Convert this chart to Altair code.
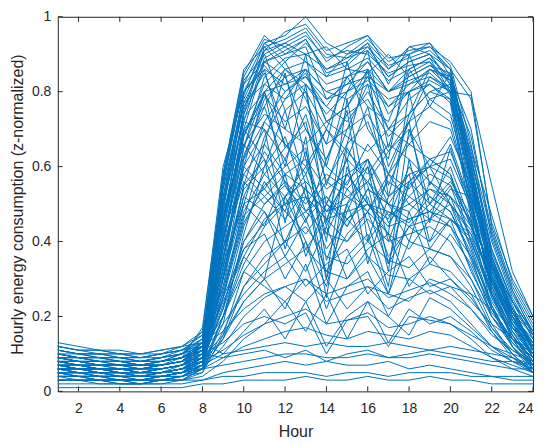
import altair as alt
import pandas as pd

hours = list(range(1, 25))
x_ticks = [2, 4, 6, 8, 10, 12, 14, 16, 18, 20, 22, 24]
y_ticks = [0, 0.2, 0.4, 0.6, 0.8, 1.0]

high_profiles = [
    [0.06,0.05,0.05,0.04,0.04,0.05,0.06,0.09,0.55,0.82,0.93,0.95,1.00,0.93,0.90,0.94,0.88,0.91,0.92,0.86,0.62,0.38,0.24,0.14],
    [0.08,0.07,0.06,0.06,0.05,0.06,0.07,0.10,0.48,0.78,0.90,0.93,0.96,0.88,0.92,0.95,0.86,0.90,0.93,0.84,0.58,0.35,0.22,0.12],
    [0.04,0.04,0.03,0.03,0.03,0.03,0.04,0.07,0.40,0.70,0.88,0.91,0.94,0.85,0.87,0.92,0.84,0.88,0.90,0.82,0.55,0.30,0.18,0.10],
    [0.10,0.09,0.09,0.08,0.08,0.08,0.10,0.14,0.58,0.85,0.95,0.90,0.92,0.78,0.82,0.88,0.80,0.86,0.89,0.80,0.64,0.42,0.27,0.17],
    [0.05,0.04,0.04,0.04,0.03,0.04,0.05,0.08,0.35,0.65,0.84,0.89,0.90,0.92,0.86,0.85,0.90,0.84,0.87,0.85,0.60,0.33,0.20,0.09],
    [0.07,0.06,0.06,0.05,0.05,0.05,0.07,0.11,0.50,0.80,0.87,0.80,0.85,0.72,0.76,0.84,0.70,0.78,0.82,0.78,0.50,0.28,0.16,0.10],
    [0.12,0.11,0.10,0.10,0.09,0.10,0.11,0.15,0.45,0.75,0.92,0.94,0.97,0.90,0.89,0.93,0.87,0.89,0.91,0.86,0.78,0.45,0.30,0.20],
    [0.03,0.03,0.02,0.02,0.02,0.03,0.03,0.06,0.30,0.60,0.80,0.86,0.88,0.82,0.84,0.86,0.80,0.83,0.85,0.80,0.52,0.26,0.14,0.07],
    [0.09,0.08,0.07,0.07,0.07,0.07,0.08,0.12,0.52,0.76,0.85,0.70,0.90,0.60,0.80,0.91,0.65,0.85,0.88,0.82,0.57,0.32,0.21,0.13],
    [0.06,0.06,0.05,0.05,0.04,0.05,0.06,0.09,0.42,0.72,0.89,0.92,0.95,0.89,0.91,0.90,0.85,0.87,0.88,0.79,0.48,0.25,0.15,0.08],
    [0.08,0.07,0.07,0.06,0.06,0.07,0.08,0.13,0.56,0.83,0.90,0.75,0.80,0.55,0.70,0.82,0.60,0.72,0.84,0.81,0.62,0.40,0.25,0.15],
    [0.05,0.05,0.04,0.04,0.04,0.04,0.05,0.08,0.38,0.68,0.82,0.88,0.93,0.86,0.88,0.93,0.82,0.92,0.93,0.87,0.66,0.36,0.23,0.11],
    [0.11,0.10,0.09,0.09,0.08,0.09,0.10,0.16,0.60,0.80,0.86,0.65,0.72,0.50,0.62,0.76,0.55,0.68,0.78,0.74,0.53,0.34,0.22,0.16],
    [0.04,0.03,0.03,0.03,0.02,0.03,0.04,0.07,0.33,0.62,0.78,0.84,0.86,0.80,0.78,0.82,0.76,0.80,0.82,0.77,0.46,0.22,0.12,0.06],
    [0.07,0.07,0.06,0.06,0.06,0.06,0.07,0.10,0.46,0.74,0.91,0.96,0.98,0.91,0.93,0.95,0.89,0.90,0.92,0.88,0.80,0.44,0.28,0.18],
    [0.09,0.08,0.08,0.07,0.07,0.08,0.09,0.12,0.44,0.70,0.76,0.60,0.82,0.45,0.66,0.86,0.52,0.74,0.86,0.83,0.59,0.31,0.19,0.12],
    [0.06,0.05,0.05,0.05,0.04,0.05,0.06,0.09,0.28,0.55,0.72,0.80,0.84,0.76,0.72,0.80,0.70,0.74,0.80,0.78,0.56,0.29,0.17,0.10],
    [0.10,0.09,0.08,0.08,0.08,0.08,0.09,0.13,0.54,0.79,0.93,0.88,0.78,0.66,0.88,0.70,0.62,0.90,0.76,0.85,0.63,0.37,0.24,0.14],
    [0.05,0.05,0.05,0.04,0.04,0.04,0.05,0.08,0.25,0.50,0.68,0.78,0.82,0.74,0.80,0.85,0.76,0.82,0.86,0.81,0.61,0.34,0.20,0.11],
    [0.08,0.08,0.07,0.07,0.06,0.07,0.08,0.11,0.49,0.77,0.88,0.90,0.94,0.84,0.86,0.89,0.83,0.86,0.89,0.84,0.70,0.41,0.26,0.16],
    [0.07,0.06,0.06,0.06,0.05,0.06,0.07,0.12,0.40,0.68,0.80,0.82,0.86,0.80,0.82,0.84,0.80,0.82,0.84,0.80,0.79,0.55,0.32,0.20],
    [0.09,0.09,0.08,0.08,0.07,0.08,0.09,0.17,0.57,0.84,0.94,0.92,0.88,0.84,0.90,0.92,0.86,0.92,0.90,0.83,0.65,0.47,0.29,0.19],
]

mid_profiles = [
    [0.06,0.05,0.05,0.04,0.04,0.05,0.06,0.08,0.30,0.55,0.62,0.50,0.58,0.42,0.54,0.60,0.45,0.52,0.58,0.55,0.40,0.25,0.15,0.08],
    [0.08,0.07,0.06,0.06,0.06,0.06,0.07,0.10,0.25,0.45,0.55,0.60,0.65,0.35,0.50,0.62,0.40,0.55,0.60,0.50,0.35,0.22,0.14,0.09],
    [0.04,0.04,0.03,0.03,0.03,0.04,0.04,0.06,0.20,0.40,0.50,0.55,0.48,0.52,0.46,0.50,0.48,0.45,0.52,0.48,0.36,0.20,0.12,0.06],
    [0.10,0.09,0.09,0.08,0.08,0.09,0.10,0.12,0.35,0.60,0.70,0.45,0.68,0.30,0.65,0.55,0.32,0.70,0.50,0.60,0.45,0.28,0.18,0.12],
    [0.07,0.06,0.06,0.05,0.05,0.06,0.07,0.09,0.22,0.38,0.45,0.52,0.56,0.50,0.44,0.54,0.50,0.46,0.48,0.44,0.33,0.20,0.13,0.08],
    [0.05,0.05,0.04,0.04,0.04,0.04,0.05,0.07,0.18,0.42,0.60,0.75,0.55,0.25,0.60,0.45,0.28,0.62,0.40,0.52,0.38,0.22,0.12,0.07],
    [0.09,0.08,0.08,0.07,0.07,0.07,0.09,0.11,0.32,0.52,0.48,0.40,0.52,0.38,0.46,0.52,0.36,0.44,0.50,0.46,0.42,0.30,0.20,0.13],
    [0.06,0.06,0.05,0.05,0.05,0.05,0.06,0.09,0.40,0.65,0.80,0.55,0.45,0.62,0.75,0.40,0.58,0.72,0.45,0.65,0.48,0.30,0.18,0.10],
    [0.03,0.03,0.03,0.02,0.02,0.03,0.03,0.05,0.15,0.32,0.40,0.44,0.48,0.42,0.40,0.46,0.40,0.42,0.44,0.40,0.30,0.18,0.10,0.05],
    [0.11,0.10,0.10,0.09,0.09,0.09,0.11,0.13,0.28,0.48,0.58,0.65,0.70,0.60,0.55,0.66,0.58,0.54,0.62,0.58,0.44,0.30,0.20,0.14],
    [0.07,0.07,0.06,0.06,0.05,0.06,0.07,0.10,0.24,0.36,0.30,0.52,0.40,0.28,0.50,0.36,0.26,0.48,0.34,0.42,0.34,0.22,0.14,0.09],
    [0.05,0.04,0.04,0.04,0.03,0.04,0.05,0.07,0.36,0.62,0.72,0.66,0.60,0.70,0.64,0.58,0.66,0.62,0.56,0.50,0.42,0.26,0.15,0.07],
    [0.08,0.08,0.07,0.07,0.07,0.07,0.08,0.11,0.20,0.34,0.44,0.58,0.36,0.50,0.62,0.34,0.52,0.58,0.38,0.46,0.32,0.21,0.14,0.10],
    [0.06,0.05,0.05,0.05,0.04,0.05,0.06,0.08,0.42,0.58,0.52,0.46,0.54,0.48,0.50,0.56,0.47,0.50,0.54,0.52,0.46,0.32,0.19,0.10],
    [0.09,0.09,0.08,0.08,0.07,0.08,0.09,0.12,0.26,0.46,0.66,0.85,0.62,0.40,0.78,0.50,0.42,0.80,0.55,0.66,0.50,0.33,0.21,0.13],
    [0.04,0.04,0.04,0.03,0.03,0.04,0.04,0.06,0.16,0.28,0.36,0.40,0.44,0.36,0.34,0.40,0.35,0.33,0.38,0.36,0.28,0.17,0.10,0.05],
    [0.10,0.09,0.09,0.08,0.08,0.08,0.10,0.13,0.45,0.70,0.62,0.38,0.55,0.30,0.48,0.60,0.34,0.56,0.62,0.58,0.40,0.26,0.17,0.12],
    [0.07,0.06,0.06,0.06,0.05,0.06,0.07,0.09,0.30,0.50,0.54,0.62,0.48,0.56,0.52,0.48,0.58,0.50,0.46,0.54,0.52,0.36,0.22,0.11],
    [0.05,0.05,0.05,0.04,0.04,0.05,0.05,0.08,0.22,0.44,0.56,0.48,0.64,0.44,0.58,0.50,0.46,0.60,0.52,0.48,0.37,0.23,0.13,0.07],
    [0.12,0.11,0.11,0.10,0.10,0.10,0.12,0.15,0.38,0.56,0.50,0.56,0.46,0.52,0.44,0.54,0.50,0.40,0.56,0.52,0.44,0.34,0.24,0.16],
]

upper_mid_profiles = [
    [0.07,0.06,0.06,0.05,0.05,0.06,0.07,0.10,0.52,0.80,0.91,0.93,0.90,0.86,0.89,0.91,0.84,0.88,0.90,0.86,0.60,0.36,0.21,0.12],
    [0.05,0.05,0.04,0.04,0.04,0.04,0.05,0.09,0.45,0.74,0.86,0.82,0.84,0.78,0.80,0.83,0.78,0.80,0.83,0.80,0.54,0.31,0.18,0.09],
    [0.10,0.10,0.09,0.09,0.08,0.09,0.10,0.14,0.50,0.72,0.70,0.62,0.74,0.56,0.66,0.72,0.58,0.66,0.72,0.70,0.52,0.33,0.22,0.15],
    [0.06,0.06,0.05,0.05,0.05,0.05,0.06,0.10,0.47,0.66,0.74,0.70,0.66,0.72,0.68,0.64,0.70,0.66,0.62,0.64,0.50,0.30,0.17,0.09],
    [0.08,0.07,0.07,0.07,0.06,0.07,0.08,0.11,0.36,0.58,0.66,0.58,0.62,0.54,0.58,0.62,0.52,0.56,0.60,0.62,0.49,0.29,0.18,0.11],
    [0.04,0.04,0.03,0.03,0.03,0.03,0.04,0.07,0.43,0.69,0.79,0.72,0.76,0.66,0.70,0.74,0.64,0.72,0.76,0.72,0.51,0.27,0.15,0.07],
    [0.09,0.08,0.08,0.08,0.07,0.08,0.09,0.12,0.33,0.54,0.60,0.68,0.52,0.46,0.58,0.50,0.44,0.56,0.50,0.56,0.47,0.31,0.20,0.12],
    [0.07,0.06,0.06,0.06,0.05,0.06,0.07,0.10,0.56,0.82,0.88,0.84,0.70,0.62,0.74,0.78,0.68,0.74,0.80,0.82,0.68,0.43,0.27,0.15],
    [0.05,0.05,0.04,0.04,0.04,0.04,0.05,0.08,0.38,0.60,0.54,0.48,0.42,0.50,0.46,0.40,0.48,0.44,0.40,0.46,0.41,0.27,0.16,0.08],
    [0.11,0.10,0.10,0.09,0.09,0.10,0.11,0.14,0.41,0.63,0.76,0.86,0.80,0.70,0.84,0.76,0.72,0.86,0.78,0.80,0.58,0.38,0.24,0.16],
    [0.06,0.05,0.05,0.05,0.04,0.05,0.06,0.09,0.31,0.52,0.64,0.56,0.50,0.58,0.54,0.48,0.56,0.52,0.48,0.55,0.45,0.28,0.16,0.08],
    [0.08,0.08,0.07,0.07,0.07,0.07,0.08,0.12,0.54,0.77,0.82,0.78,0.86,0.72,0.76,0.86,0.74,0.80,0.86,0.84,0.56,0.33,0.20,0.12],
    [0.03,0.03,0.03,0.03,0.02,0.03,0.03,0.06,0.27,0.47,0.52,0.58,0.54,0.48,0.52,0.56,0.50,0.48,0.54,0.50,0.39,0.23,0.12,0.05],
    [0.09,0.09,0.08,0.08,0.08,0.08,0.09,0.13,0.48,0.66,0.58,0.52,0.60,0.48,0.56,0.62,0.50,0.58,0.60,0.57,0.44,0.29,0.19,0.13],
    [0.06,0.06,0.06,0.05,0.05,0.05,0.06,0.09,0.23,0.40,0.48,0.36,0.46,0.32,0.42,0.48,0.34,0.44,0.46,0.44,0.36,0.24,0.15,0.08],
    [0.07,0.07,0.06,0.06,0.06,0.06,0.07,0.11,0.58,0.86,0.92,0.86,0.82,0.76,0.84,0.88,0.80,0.84,0.87,0.83,0.57,0.34,0.20,0.11],
    [0.12,0.11,0.11,0.10,0.10,0.11,0.12,0.16,0.34,0.50,0.44,0.50,0.38,0.46,0.40,0.48,0.42,0.38,0.46,0.50,0.43,0.30,0.21,0.15],
    [0.05,0.04,0.04,0.04,0.04,0.04,0.05,0.07,0.20,0.36,0.46,0.50,0.52,0.46,0.48,0.50,0.44,0.46,0.48,0.46,0.40,0.26,0.14,0.06],
    [0.08,0.07,0.07,0.07,0.06,0.07,0.08,0.12,0.51,0.73,0.80,0.66,0.58,0.70,0.62,0.56,0.64,0.70,0.60,0.68,0.55,0.35,0.21,0.12],
    [0.04,0.04,0.04,0.03,0.03,0.03,0.04,0.06,0.14,0.24,0.30,0.34,0.38,0.32,0.30,0.36,0.31,0.30,0.34,0.32,0.26,0.16,0.09,0.05],
]

low_profiles = [
    [0.05,0.05,0.04,0.04,0.04,0.04,0.05,0.06,0.12,0.20,0.25,0.28,0.30,0.24,0.26,0.28,0.22,0.25,0.27,0.24,0.18,0.12,0.08,0.05],
    [0.08,0.07,0.07,0.06,0.06,0.07,0.08,0.09,0.15,0.24,0.30,0.22,0.34,0.18,0.28,0.32,0.20,0.30,0.26,0.28,0.22,0.15,0.11,0.08],
    [0.03,0.03,0.03,0.02,0.02,0.02,0.03,0.04,0.08,0.14,0.18,0.20,0.22,0.18,0.19,0.21,0.17,0.18,0.20,0.18,0.14,0.09,0.06,0.04],
    [0.10,0.09,0.09,0.09,0.08,0.09,0.10,0.12,0.18,0.26,0.32,0.36,0.28,0.34,0.38,0.26,0.32,0.36,0.28,0.30,0.24,0.18,0.14,0.11],
    [0.06,0.06,0.05,0.05,0.05,0.05,0.06,0.07,0.10,0.16,0.22,0.14,0.24,0.12,0.20,0.24,0.13,0.22,0.18,0.20,0.16,0.11,0.08,0.06],
    [0.04,0.04,0.04,0.03,0.03,0.04,0.04,0.05,0.20,0.32,0.28,0.24,0.30,0.26,0.28,0.30,0.25,0.27,0.29,0.26,0.22,0.16,0.10,0.05],
    [0.07,0.07,0.06,0.06,0.06,0.06,0.07,0.08,0.11,0.15,0.18,0.24,0.16,0.26,0.14,0.24,0.20,0.15,0.25,0.22,0.17,0.12,0.09,0.07],
    [0.09,0.08,0.08,0.08,0.07,0.08,0.09,0.11,0.25,0.38,0.42,0.30,0.40,0.22,0.36,0.42,0.26,0.40,0.38,0.36,0.30,0.20,0.14,0.10],
    [0.05,0.04,0.04,0.04,0.04,0.04,0.05,0.06,0.09,0.12,0.14,0.16,0.17,0.15,0.14,0.16,0.15,0.14,0.16,0.15,0.12,0.09,0.07,0.05],
    [0.11,0.10,0.10,0.10,0.09,0.10,0.11,0.12,0.16,0.22,0.26,0.28,0.24,0.30,0.22,0.28,0.26,0.24,0.30,0.28,0.26,0.22,0.17,0.13],
    [0.06,0.06,0.05,0.05,0.05,0.05,0.06,0.08,0.14,0.28,0.34,0.40,0.32,0.44,0.30,0.38,0.42,0.28,0.36,0.30,0.25,0.17,0.11,0.07],
    [0.08,0.08,0.07,0.07,0.07,0.07,0.08,0.10,0.13,0.18,0.20,0.18,0.21,0.10,0.19,0.20,0.12,0.20,0.19,0.18,0.15,0.12,0.10,0.08],
]

flat_profiles = [
    [0.03,0.03,0.03,0.03,0.03,0.03,0.03,0.03,0.04,0.04,0.05,0.05,0.05,0.04,0.05,0.05,0.04,0.05,0.05,0.05,0.04,0.04,0.03,0.03],
    [0.06,0.06,0.06,0.05,0.05,0.05,0.06,0.06,0.07,0.08,0.09,0.10,0.10,0.09,0.09,0.10,0.09,0.09,0.10,0.09,0.08,0.07,0.06,0.06],
    [0.01,0.01,0.01,0.01,0.01,0.01,0.01,0.02,0.02,0.03,0.03,0.03,0.04,0.03,0.03,0.04,0.03,0.03,0.04,0.03,0.03,0.02,0.02,0.02],
    [0.13,0.12,0.11,0.11,0.10,0.11,0.12,0.13,0.10,0.11,0.12,0.13,0.12,0.13,0.12,0.12,0.13,0.12,0.11,0.12,0.11,0.10,0.09,0.06],
    [0.02,0.02,0.02,0.02,0.02,0.02,0.02,0.03,0.05,0.06,0.07,0.08,0.07,0.08,0.07,0.07,0.08,0.06,0.07,0.06,0.05,0.04,0.04,0.04],
    [0.09,0.08,0.08,0.08,0.08,0.08,0.09,0.10,0.09,0.10,0.11,0.09,0.11,0.08,0.10,0.11,0.09,0.10,0.11,0.10,0.09,0.08,0.08,0.07],
]

rows = []
for name, group in [("high", high_profiles), ("mid", mid_profiles),
                    ("umid", upper_mid_profiles), ("low", low_profiles),
                    ("flat", flat_profiles)]:
    for i, prof in enumerate(group):
        for h, v in zip(hours, prof):
            rows.append({"series": f"{name}{i}", "hour": h, "value": v})
df = pd.DataFrame(rows)

W, H = 477, 376
AX = "#262626"
FONT = "Liberation Sans"
xs = alt.Scale(domain=[1, 24], nice=False, zero=False)
ys = alt.Scale(domain=[0, 1], nice=False, zero=False)

x_axis = alt.Axis(values=x_ticks, title="Hour", format="d",
                  labelPadding=10, titleY=45, titleBaseline="alphabetic")
y_axis = alt.Axis(values=y_ticks, title="Hourly energy consumption (z-normalized)",
                  format="~g", labelPadding=7, titleX=-35, titleY=H / 2,
                  titleBaseline="alphabetic")

lines = alt.Chart(df).mark_line(strokeWidth=1.0, color="#0072BD").encode(
    x=alt.X("hour:Q", scale=xs, axis=x_axis),
    y=alt.Y("value:Q", scale=ys, axis=y_axis),
    detail="series:N",
)

xt = pd.DataFrame({"hour": x_ticks})
yt = pd.DataFrame({"value": y_ticks})
bottom_ticks = alt.Chart(xt).mark_rule(color=AX, strokeWidth=1).encode(
    x=alt.X("hour:Q", scale=xs, axis=x_axis), y=alt.value(H), y2=alt.value(H - 5))
top_ticks = alt.Chart(xt).mark_rule(color=AX, strokeWidth=1).encode(
    x=alt.X("hour:Q", scale=xs, axis=x_axis), y=alt.value(0), y2=alt.value(5))
left_ticks = alt.Chart(yt).mark_rule(color=AX, strokeWidth=1).encode(
    y=alt.Y("value:Q", scale=ys, axis=y_axis), x=alt.value(0), x2=alt.value(5))
right_ticks = alt.Chart(yt).mark_rule(color=AX, strokeWidth=1).encode(
    y=alt.Y("value:Q", scale=ys, axis=y_axis), x=alt.value(W - 5), x2=alt.value(W))

chart = alt.layer(lines, bottom_ticks, top_ticks, left_ticks, right_ticks).properties(
    width=W, height=H,
    background="white",
    autosize=alt.AutoSizeParams(type="none"),
    padding={"left": 50, "top": 8, "right": 9, "bottom": 50},
).configure_view(
    stroke=AX, strokeWidth=1
).configure_axis(
    domain=False, ticks=False, tickSize=0, grid=False,
    labelFont=FONT, titleFont=FONT, labelFontSize=14, titleFontSize=16,
    titleFontWeight="normal", labelColor=AX, titleColor=AX,
)

chart.save("out.html", embed_options={"renderer": "svg", "actions": False})
